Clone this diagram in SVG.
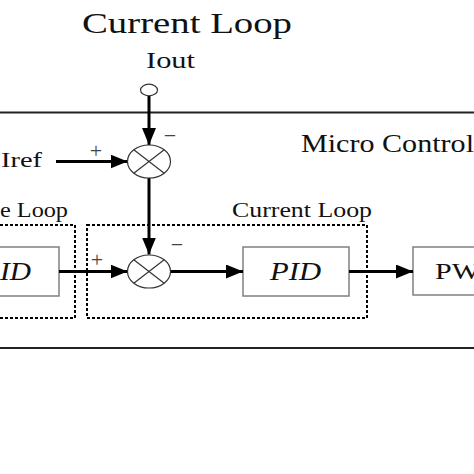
<svg xmlns="http://www.w3.org/2000/svg" width="474" height="474" viewBox="0 0 474 474">
<style>
text{font-family:"Liberation Serif","Times New Roman",serif;fill:#111}
.conn{stroke:#000;stroke-width:3;fill:none}
.blk{fill:#fff;stroke:#808080;stroke-width:1.5}
.sum{fill:#fff;stroke:#333;stroke-width:1.2}
.x{stroke:#333;stroke-width:1.2}
.dot{fill:none;stroke:#000;stroke-width:2;stroke-dasharray:3 2}
.sign{font-size:22px;text-anchor:middle;fill:#444}
</style>
<defs>
<marker id="ah" markerUnits="userSpaceOnUse" markerWidth="17" markerHeight="14" refX="17" refY="7" orient="auto">
<path d="M0,0 L17,7 L0,14 z" fill="#000"/>
</marker>
</defs>
<rect width="474" height="474" fill="#fff"/>
<text x="82" y="33" font-size="30" textLength="210" lengthAdjust="spacingAndGlyphs">Current Loop</text>
<g id="micro">
<line x1="0" y1="112.5" x2="474" y2="112.5" stroke="#222" stroke-width="2.2"/>
<line x1="0" y1="348" x2="474" y2="348" stroke="#222" stroke-width="2.2"/>
<text x="301" y="152" font-size="25" textLength="173" lengthAdjust="spacingAndGlyphs">Micro Control</text>
</g>
<g id="voltage-loop">
<path class="dot" d="M-5,225 H75 V318 H-5"/>
<text x="0" y="217" font-size="21" textLength="68" lengthAdjust="spacingAndGlyphs">e Loop</text>
</g>
<g id="current-loop">
<rect class="dot" x="87" y="225" width="280" height="93"/>
<text x="232" y="217" font-size="21" textLength="140" lengthAdjust="spacingAndGlyphs">Current Loop</text>
</g>
<g id="iout">
<ellipse cx="149" cy="90" rx="8.5" ry="5.8" fill="#fff" stroke="#333" stroke-width="1.2"/>
<text x="146" y="68" font-size="22.5" textLength="49" lengthAdjust="spacingAndGlyphs">Iout</text>
</g>
<g id="iref">
<text x="1" y="167" font-size="21" textLength="41" lengthAdjust="spacingAndGlyphs">Iref</text>
</g>
<g id="pid-left">
<rect class="blk" x="-10" y="247" width="69" height="49"/>
<text x="0" y="280" font-size="25" font-style="italic" textLength="31" lengthAdjust="spacingAndGlyphs">ID</text>
</g>
<g id="pid">
<rect class="blk" x="243" y="247" width="106" height="49"/>
<text x="270" y="280" font-size="25" font-style="italic" textLength="51" lengthAdjust="spacingAndGlyphs">PID</text>
</g>
<g id="pwm">
<rect class="blk" x="413" y="247" width="80" height="48"/>
<text x="435" y="279" font-size="23" textLength="45" lengthAdjust="spacingAndGlyphs">PW</text>
</g>
<g id="connectors">
<path class="conn" d="M149,96 V145" marker-end="url(#ah)"/>
<path class="conn" d="M56,161.5 H127.5" marker-end="url(#ah)"/>
<path class="conn" d="M149,178 V254.5" marker-end="url(#ah)"/>
<path class="conn" d="M59,271.5 H127.5" marker-end="url(#ah)"/>
<path class="conn" d="M170.5,271.5 H243" marker-end="url(#ah)"/>
<path class="conn" d="M349,271.5 H413" marker-end="url(#ah)"/>
</g>
<g id="sum1">
<ellipse class="sum" cx="149" cy="161.5" rx="21.5" ry="16.5"/>
<line class="x" x1="133.8" y1="149.8" x2="164.2" y2="173.2"/>
<line class="x" x1="133.8" y1="173.2" x2="164.2" y2="149.8"/>
<text class="sign" x="96" y="158">+</text>
<text class="sign" x="170" y="142.5">−</text>
</g>
<g id="sum2">
<ellipse class="sum" cx="149" cy="271.5" rx="21.5" ry="16.5"/>
<line class="x" x1="133.8" y1="259.8" x2="164.2" y2="283.2"/>
<line class="x" x1="133.8" y1="283.2" x2="164.2" y2="259.8"/>
<text class="sign" x="97" y="267">+</text>
<text class="sign" x="177" y="251.5">−</text>
</g>
</svg>
